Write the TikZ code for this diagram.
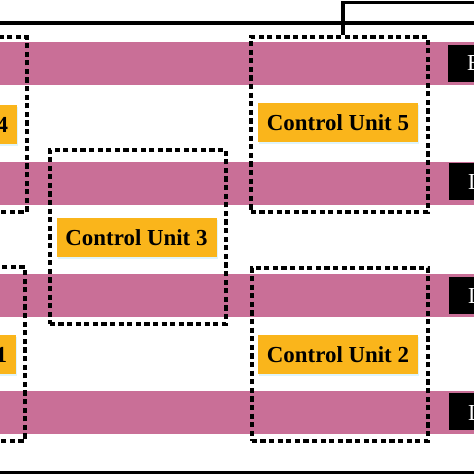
\documentclass[tikz,border=0pt]{standalone}
\usepackage{fontspec}
\setmainfont{Liberation Serif}
\usetikzlibrary{shadows}
\definecolor{bandpink}{RGB}{201,111,151}
\definecolor{cuorange}{RGB}{250,181,27}
\begin{document}
\begin{tikzpicture}[x=1bp,y=-1bp,
  bandbox/.style={fill=bandpink, draw=none, inner sep=0, minimum width=490bp, minimum height=43bp, anchor=north west},
  tagbox/.style={fill=black, draw=none, inner sep=0, minimum width=60bp, minimum height=37bp, anchor=north west},
  tagtext/.style={text=white, inner sep=0, anchor=base west, font=\fontsize{23}{23}\selectfont},
  dbox/.style={draw=black, line width=3.6bp, dash pattern=on 5.2bp off 3.4bp, inner sep=0, anchor=north west},
  cubox/.style={fill=cuorange, inner sep=0, minimum width=160bp, minimum height=39bp,
    font=\bfseries\fontsize{23}{23}\selectfont,
    drop shadow={shadow xshift=1bp, shadow yshift=-2bp, fill=cyan!25, opacity=0.5}},
  wire/.style={draw=black, line width=3.2bp}
]
\useasboundingbox (0,0) rectangle (474,474);
\clip (0,0) rectangle (474,474);
\fill[white] (0,0) rectangle (474,474);

% bands
\node[bandbox] (b1) at (-8,42) {};
\node[bandbox] (b2) at (-8,162) {};
\node[bandbox] (b3) at (-8,274) {};
\node[bandbox] (b4) at (-8,391) {};

% black tags
\node[tagbox] (t1) at (448,45) {};
\node[tagbox] (t2) at (449,163) {};
\node[tagbox] (t3) at (449,277) {};
\node[tagbox] (t4) at (449,393) {};
\node[tagtext] (l1) at (467,71) {E};
\node[tagtext] (l2) at (468,190) {L};
\node[tagtext] (l3) at (468,303) {L};
\node[tagtext] (l4) at (468,420) {L};

% dashed groups
\node[dbox, minimum width=60bp, minimum height=175bp] (d4) at (-35,35) {};
\node[dbox, minimum width=177bp, minimum height=175bp] (d5) at (249,35) {};
\node[dbox, minimum width=176bp, minimum height=174bp] (d3) at (48,148) {};
\node[dbox, minimum width=58bp, minimum height=174bp] (d1) at (-35,265) {};
\node[dbox, minimum width=176bp, minimum height=173bp] (d2) at (250,266) {};

% control units
\node[cubox] (cu5) at (338,122.5) {Control Unit 5};
\node[cubox] (cu2) at (338,354.5) {Control Unit 2};
\node[cubox] (cu3) at (136.5,237.5) {Control Unit 3};
\node[cubox] (cu4) at (-63,125) {Control Unit 4};
\node[cubox] (cu1) at (-64,354.5) {Control Unit 1};

% wires
\coordinate (busL) at (-10,23);
\coordinate (busR) at (484,23);
\coordinate (tap) at (343,2.5);
\coordinate (topR) at (484,2.5);
\coordinate (botL) at (-10,472.5);
\coordinate (botR) at (484,472.5);
\draw[wire] (busL) -- (busR);
\draw[wire] (d5.north -| tap) -- (tap) -- (topR);
\draw[wire, line width=3.8bp] (botL) -- (botR);
\end{tikzpicture}
\end{document}
